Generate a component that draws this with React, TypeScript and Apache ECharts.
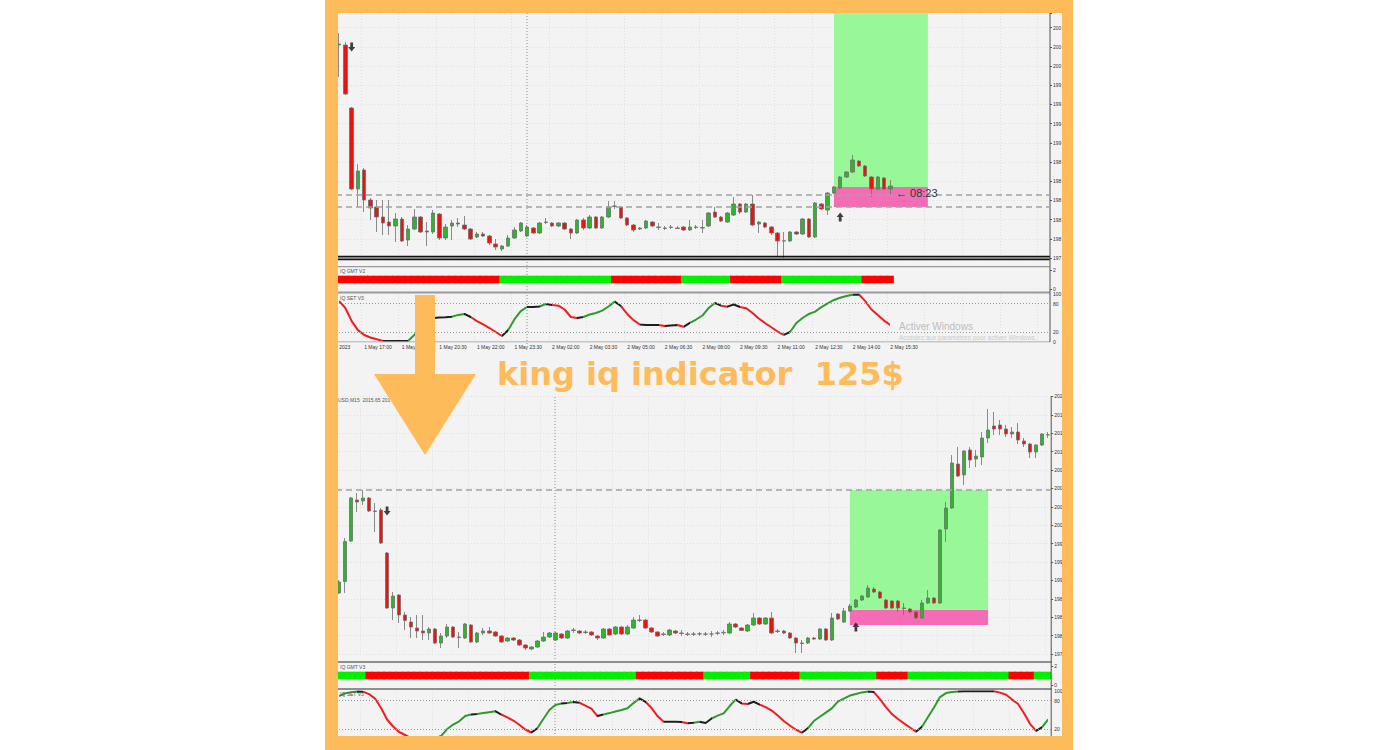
import React, { useEffect, useRef } from "react";
import * as echarts from "echarts";

// ---------------- DATA ----------------
// Prices are in "points" above each panel's lowest price tick.
const TOP_SLOTS = 114;
const BOTTOM_SLOTS = 119;

// [open, close, low, high]
const TOP_CANDLES: number[][] = [
  [106.5, 107, 90.5, 112.5], [106.5, 82, 81.5, 108], [75, 34.5, 34, 75.5], [34.5, 43.5, 25.5, 47],
  [44, 29, 23, 45], [29, 25, 19, 30], [25.5, 20.5, 13, 29], [20.5, 17.5, 11.5, 29],
  [18, 16, 11.5, 29], [16, 19.5, 8, 22.5], [19.5, 8.5, 8, 20.5], [9, 14.5, 6, 16.5],
  [14.5, 20.5, 14, 24.5], [20.5, 13, 12.5, 21], [13.5, 13, 6, 18], [13, 22.5, 12, 24],
  [22, 10, 9, 22.5], [10, 15.5, 9, 17], [16, 17.5, 9, 19], [17.5, 17, 15.5, 20],
  [16.5, 14.5, 14, 21], [14.5, 9.5, 9, 15], [10.5, 12, 10, 13], [12, 11, 10.5, 13],
  [11, 7.5, 6.5, 11.5], [7, 5.5, 4, 9.5], [4.5, 6, 3.5, 6.5], [6, 10, 5.5, 11.5],
  [10, 14, 9.5, 15.5], [13.5, 17.5, 13, 18], [11, 15.5, 10.5, 16.5], [15, 12.5, 12, 15.5],
  [12.5, 17.5, 12, 18], [18, 17.8, 17, 20], [17.5, 16, 15.5, 18], [16, 17.5, 15.5, 18],
  [17.5, 14.5, 14, 18], [14.5, 12.5, 9.5, 15], [12.5, 19, 12, 19.5], [19, 15, 14, 20],
  [15, 20.5, 14.5, 21.5], [20.5, 15, 14.5, 21], [15, 20.5, 14.5, 21], [20.5, 25.5, 20, 28.5],
  [26, 25.8, 24.5, 28.5], [25.5, 20, 19.5, 26], [20, 16.5, 16, 20.5], [16.5, 14, 13, 17],
  [14.5, 15, 14, 15.5], [15, 18.5, 14.5, 19], [18, 16, 15.5, 18.5], [15.5, 15.3, 14, 17.5],
  [15, 14.8, 14, 16], [15.5, 15.3, 14.5, 16.5], [15, 14.8, 14.5, 16], [15.5, 14, 13.5, 16],
  [14, 15.5, 13.5, 19], [15.5, 15.3, 14.5, 16.5], [15, 15.2, 12.5, 19], [16, 22.5, 15.5, 23],
  [23, 20.5, 20, 25.5], [20.5, 18.5, 18, 21], [18, 22.5, 17.5, 23], [21.5, 27, 21, 30.5],
  [27, 23, 22, 27.5], [23, 27, 22.5, 27.5], [27, 16.5, 16, 31.5], [17, 18, 12.5, 18.5],
  [17.5, 15.5, 15, 18], [15.5, 12.5, 11.5, 16], [12.5, 8.5, 0.5, 13], [8.5, 8.6, 0, 13],
  [8.5, 13, 8, 13.5], [13, 12, 11.5, 13.5], [12, 19.5, 11.5, 20], [19.5, 10.5, 10, 20],
  [10.5, 27.5, 10, 28], [27, 24.5, 24, 27.5], [24, 32.5, 21.5, 33], [32.5, 35.5, 32, 36],
  [35, 40.5, 34.5, 41], [40.5, 43, 40, 43.5], [43, 49, 42.5, 51.5], [48.5, 46, 45.5, 49],
  [46, 41, 40.5, 46.5], [40.5, 34.5, 30.5, 41], [34.5, 40.5, 34, 41], [40, 34.5, 34, 40.5],
  [34.5, 36, 31.5, 39],
];

const BOTTOM_CANDLES: number[][] = [
  [30.5, 36, 30, 37], [36.2, 56.2, 30.5, 58], [56.5, 78, 56, 78.5], [77, 76, 71, 80.5],
  [76.5, 78, 74.5, 82], [78, 71.5, 71, 78.5], [71.5, 71.3, 61, 75.5], [72, 55.5, 55, 73],
  [50.5, 23, 22.5, 51], [23, 29, 17, 31], [29.5, 19.5, 15.5, 30], [19.5, 16.8, 12, 21],
  [16, 13.5, 8, 18.5], [13, 11.5, 8, 19.5], [11.5, 10.5, 7, 19.5], [10.5, 12.5, 7, 13.5],
  [12.5, 5.5, 5, 13], [5.5, 9, 3, 10.5], [9, 13.5, 8, 15], [13.5, 8.5, 8, 14],
  [8.5, 8.3, 3, 11], [8, 15, 7.5, 15.5], [14.5, 6, 5.5, 15], [6, 10.5, 5.5, 11],
  [10.5, 11.5, 9.5, 13], [11.5, 10.5, 10, 13.5], [11, 9, 8.5, 11.5], [9, 6, 5.5, 9.5],
  [6.5, 8, 6, 8.5], [8, 7, 6.5, 8.5], [7, 4.5, 4, 7.5], [4.5, 3, 2, 5],
  [2.5, 3.5, 2, 4], [3.5, 6.5, 3, 7], [6.5, 8.5, 6, 11], [8.5, 10.5, 8, 11],
  [7, 10.5, 6.5, 11], [10, 8, 7.5, 10.5], [8, 11.5, 7.5, 12], [12, 11.8, 10.5, 13],
  [11.5, 10.5, 10, 12], [11, 10.8, 10, 12], [11, 9.5, 9, 11.5], [9, 8, 7, 9.5],
  [8, 12.5, 7.5, 13], [12.5, 9.5, 9, 13], [10, 13.5, 9.5, 14], [13.5, 10, 9.5, 14],
  [10, 13.5, 9.5, 14.5], [13, 17, 12.5, 18.5], [17, 16.8, 16, 19.5], [17, 13, 12.5, 17.5],
  [13, 11, 10.5, 13.5], [11, 9, 8.5, 11.5], [10, 9.8, 9, 11], [9.5, 12, 9, 12.5],
  [11.5, 10.5, 10, 12], [10.5, 10.3, 9, 12], [10, 9.8, 9, 11], [10, 9.9, 9, 11],
  [10, 10.1, 9, 11], [10, 9.9, 9, 11], [10, 10, 8.5, 11.5], [10.5, 10.4, 9.5, 11.5],
  [10.8, 10.6, 9.5, 12], [10.5, 15, 10, 16], [15, 13.5, 13, 15.5], [13, 11.8, 11.5, 13.5],
  [11.5, 14.5, 11, 15], [14.5, 18, 14, 20.5], [18, 15, 14.5, 18.5], [15, 18, 14.5, 18.5],
  [18, 10.5, 10, 21], [11.5, 11.3, 10.5, 12.5], [11.5, 10.5, 10, 12], [10.5, 8, 7.5, 11],
  [8, 5.5, 0.5, 8.5], [5.5, 5.3, 0.5, 7], [5.5, 8, 5, 8.5], [8, 7.5, 7, 8.5],
  [7.5, 12.5, 7, 13], [12.5, 7, 6.5, 13], [7, 18, 6.5, 20.5], [20, 17.5, 17, 20.5],
  [16, 21.5, 15.5, 23], [21.5, 24, 21, 25], [23.5, 27, 23, 27.5], [27, 29, 26.5, 29.5],
  [28.5, 33, 28, 34.5], [32.5, 31, 30.5, 33.5], [31, 28, 27.5, 31.5], [27, 23, 22.5, 27.5],
  [26.5, 23, 22.5, 27], [26.5, 23, 21, 27], [23, 22.8, 19.5, 25.5], [22.5, 21, 20.5, 23],
  [21, 18, 17.5, 21.5], [18, 25.5, 17.5, 27], [25.5, 28, 25, 32], [28, 25.5, 25, 28.5],
  [25.5, 62, 25, 62.5], [62.5, 73, 56, 76], [73, 95.5, 72.5, 99.5], [95, 89, 88.5, 103.5],
  [89.5, 101.5, 84.5, 102], [102, 97, 93, 103.5], [97.5, 99, 93.5, 102], [98.5, 108, 94.5, 111],
  [108, 112, 105.5, 122.5], [114, 112.5, 109.5, 121], [114.5, 112.5, 109.5, 117], [112.5, 110, 108.5, 114.5],
  [110, 111, 108, 113.5], [111, 107, 105, 115.5], [106.5, 105, 103.5, 108], [105, 101, 98, 105.5],
  [101, 104.5, 98, 105], [104.5, 110, 104, 110.5], [109.5, 109.6, 108, 111],
];

// IQ SET V3 oscillator (0..100)
const TOP_SET = [
  85, 70.5, 43, 24, 13.7, 8.4, 4.6, 1, 1, 1,
  1, 1, 13.7, 28, 41, 49.5, 50.5, 51, 52, 56,
  58, 51.6, 43, 35.8, 28.4, 20, 11.6, 24, 47, 64,
  72.6, 72.6, 73.7, 79, 76.8, 75.4, 67.4, 51.6, 49.5, 51.6,
  56.8, 60, 65, 73.7, 84, 74.7, 58, 45, 35.8, 34.7,
  34.7, 34.7, 32.6, 33.7, 34.7, 31, 39, 46.3, 54.7, 70.5,
  81, 75.4, 73.3, 78, 72.6, 70, 60, 48.4, 39, 30,
  21, 14, 20, 39, 49.5, 58, 63, 72.6, 80.4, 87.4,
  92, 95.8, 98.3, 99, 85, 67.4, 55.8, 44, 34.7,
];
const BOTTOM_SET = [
  89.7, 95.4, 98, 99.6, 99, 94, 84.5, 64.6, 40.5, 25.8,
  14.3, 8, 1, 0, 0, 0, 2, 6, 20.5, 30,
  36.7, 47.8, 51, 52, 54, 56, 58, 51, 45, 38.4,
  29.6, 19.5, 13.2, 22, 41.5, 60.4, 70.9, 74, 75, 77.1,
  75.7, 69.8, 63.5, 47.8, 51, 54, 57.2, 60.4, 64, 75,
  84.9, 77.8, 64.6, 47.8, 35.8, 35.8, 35.8, 35.2, 32.5, 33.5,
  35.8, 33.1, 42.6, 48.8, 53.5, 68.8, 82.4, 74.4, 73, 77.8,
  71.9, 66.7, 59.3, 48.8, 37.3, 27.9, 19.5, 12.8, 22, 37.3,
  46.3, 55.1, 63.9, 78.2, 84.5, 90.8, 94.3, 97.5, 99.6, 98.1,
  83.4, 66.7, 52, 41.5, 32.5, 23.7, 14.9, 25.4, 45.7, 65.6,
  87.6, 96, 98.1, 99.6, 100, 100, 100, 100, 100, 100,
  97, 92.5, 82.4, 73, 53, 31, 16.8, 24.7, 40.9,
];

// IQ GMT signal runs: [signal, candle count]
const TOP_GMT_RUNS: [string, number][] = [
  ["R", 26], ["G", 18], ["R", 11], ["G", 8], ["R", 8], ["G", 13], ["R", 5],
];
const BOTTOM_GMT_RUNS: [string, number][] = [
  ["G", 5], ["R", 27], ["G", 18], ["R", 11], ["G", 8], ["R", 8], ["G", 13], ["R", 5], ["G", 17], ["R", 4], ["G", 3],
];

const TOP_PRICE_STEP = 9.6;
const TOP_PRICE_MAX = 122.5;
const TOP_PRICE_LABELS = ["197", "198", "198", "198", "198", "198", "199", "199", "199", "199", "200", "200", "200"];
const BOTTOM_PRICE_STEP = 9.2;
const BOTTOM_PRICE_MAX = 128.8;
const BOTTOM_PRICE_LABELS = ["197", "198", "198", "198", "199", "199", "199", "200", "200", "200", "200", "201", "201", "201", "202"];

const TOP_TIME_LABELS: Record<number, string> = {
  0: "2023", 4: "1 May 17:00", 10: "1 May 18:30", 16: "1 May 20:30", 22: "1 May 22:00",
  28: "1 May 23:30", 34: "2 May 02:00", 40: "2 May 03:30", 46: "2 May 05:00", 52: "2 May 06:30",
  58: "2 May 08:00", 64: "2 May 09:30", 70: "2 May 11:00", 76: "2 May 12:30", 82: "2 May 14:00",
  88: "2 May 15:30",
};

const TOP_LEVELS = [31.5, 25.5];
const BOTTOM_LEVELS = [82];
const TOP_ZONE = { from: 79, to: 94, target: 122.5, entry: 35.5, stop: 25.5 };
const BOTTOM_ZONE = { from: 85, to: 108, target: 82, entry: 22, stop: 14.5 };
const TOP_SIGNALS = [{ index: 2, price: 105.5, dir: "down" }, { index: 80, price: 20.5, dir: "up" }];
const BOTTOM_SIGNALS = [{ index: 8, price: 71.5, dir: "down" }, { index: 86, price: 13.5, dir: "up" }];
const SET_LEVELS = [20, 80];
const SET_AXIS_LABELS = [0, 20, 80, 100];

// ---------------- STYLE ----------------
const ORANGE = "#fdbb5a";
const BULL = "#2eb52e";
const BEAR = "#e8140f";
const WICK = "#6e6e6e";
const SET_GREEN = "#2f9a2f";
const SET_RED = "#f21c1c";
const SET_BLACK = "#1e1e1e";
const GMT_GREEN = "#00f000";
const GMT_RED = "#ff0000";
const DOWN_ARROW = "path://M3,0 H7 V6 H10 L5,12 L0,6 H3 Z";
const UP_ARROW = "path://M5,0 L10,6 H7 V12 H3 V6 H0 Z";

function expandRuns(runs: [string, number][]) {
  const out: string[] = [];
  runs.forEach(([c, n]) => {
    for (let k = 0; k < n; k++) out.push(c);
  });
  return out;
}

function segmentPieces(values: number[]) {
  const cols: string[] = [];
  let prevD = 0;
  for (let i = 0; i < values.length - 1; i++) {
    const d = values[i + 1] - values[i];
    let c: string;
    if (Math.abs(d) < 1.2) c = SET_BLACK;
    else if (Math.abs(prevD) >= 1.2 && Math.sign(d) !== Math.sign(prevD)) c = SET_BLACK;
    else c = d > 0 ? SET_GREEN : SET_RED;
    cols.push(c);
    prevD = d;
  }
  const pieces: any[] = [];
  let start = 0;
  for (let i = 1; i <= cols.length; i++) {
    if (i === cols.length || cols[i] !== cols[start]) {
      pieces.push({ gte: start, lt: i, color: cols[start] });
      start = i;
    }
  }
  const last = pieces[pieces.length - 1];
  pieces[pieces.length - 1] = { gte: last.gte, lte: values.length - 1, color: last.color };
  return pieces;
}

function priceLabel(v: number, step: number, labels: string[]) {
  const k = v / step;
  const r = Math.round(k);
  if (Math.abs(k - r) > 0.01) return "";
  return labels[r] ?? "";
}

const topCats = Array.from({ length: TOP_SLOTS }, (_, i) => "T" + i);
const bottomCats = Array.from({ length: BOTTOM_SLOTS }, (_, i) => "B" + i);

function candleSeries(xi: number, data: number[][], cats: string[], zone: any, levels: number[], tagText: string) {
  const lastClose = data[data.length - 1][1];
  return {
    type: "candlestick",
    xAxisIndex: xi,
    yAxisIndex: xi,
    data,
    barWidth: 4,
    z: 3,
    itemStyle: { color: BULL, color0: BEAR, borderColor: WICK, borderColor0: WICK, borderWidth: 0.8 },
    markArea: {
      silent: true,
      data: [
        [
          { xAxis: cats[zone.from], yAxis: zone.target, itemStyle: { color: "#98f898", opacity: 1 } },
          { xAxis: cats[zone.to], yAxis: zone.entry },
        ],
        [
          { xAxis: cats[zone.from], yAxis: zone.entry, itemStyle: { color: "#f46cb6", opacity: 1 } },
          { xAxis: cats[zone.to], yAxis: zone.stop },
        ],
      ],
    },
    markLine: {
      silent: true,
      symbol: "none",
      animation: false,
      data: [
        ...levels.map((v) => ({
          yAxis: v,
          lineStyle: { color: "#a3a3a3", type: [6, 4], width: 1.5 },
          label: { show: false },
        })),
        {
          yAxis: lastClose,
          lineStyle: { width: 0, opacity: 0 },
          label: {
            show: true,
            position: "end",
            distance: 1,
            formatter: tagText,
            fontSize: 5,
            color: "#fff",
            backgroundColor: "#000",
            padding: [1, 1, 0, 1],
          },
        },
      ],
    },
  };
}

function signalSeries(xi: number, sigs: any[], cats: string[]) {
  return {
    type: "scatter",
    xAxisIndex: xi,
    yAxisIndex: xi,
    z: 6,
    symbolSize: [7, 9],
    itemStyle: { color: "#111" },
    data: sigs.map((s) => ({ value: [cats[s.index], s.price], symbol: s.dir === "down" ? DOWN_ARROW : UP_ARROW })),
  };
}

function gmtSeries(xi: number, runs: [string, number][]) {
  const sig = expandRuns(runs);
  const common = { type: "bar", xAxisIndex: xi, yAxisIndex: xi, stack: "gmt" + xi, barWidth: 7.2 };
  return [
    { ...common, data: sig.map(() => 0.6), itemStyle: { color: "rgba(0,0,0,0)" } },
    { ...common, data: sig.map((c) => (c === "G" ? 0.8 : 0)), itemStyle: { color: GMT_GREEN } },
    { ...common, data: sig.map((c) => (c === "R" ? 0.8 : 0)), itemStyle: { color: GMT_RED } },
  ];
}

function setSeries(xi: number, values: number[]) {
  return {
    type: "line",
    xAxisIndex: xi,
    yAxisIndex: xi,
    data: values,
    symbol: "none",
    z: 4,
    lineStyle: { width: 2 },
    markLine: {
      silent: true,
      symbol: "none",
      data: SET_LEVELS.map((v) => ({ yAxis: v })),
      lineStyle: { color: "#9a9a9a", type: [1, 2], width: 1 },
      label: { show: false },
    },
  };
}

const gridLine = { show: true, lineStyle: { color: "#e0e0e0", type: [1, 2], width: 1 } };
const axisText = { fontSize: 5, color: "#333", margin: 3, fontFamily: "Liberation Sans" };

function xAxisFor(gi: number, cats: string[], withLabels: boolean) {
  return {
    gridIndex: gi,
    type: "category",
    data: cats,
    boundaryGap: true,
    axisLine: { show: false },
    axisTick: { show: false },
    axisLabel: withLabels
      ? {
          show: true,
          interval: (i: number) => TOP_TIME_LABELS[i] !== undefined,
          formatter: (_v: string, i: number) => TOP_TIME_LABELS[i] ?? "",
          fontSize: 5,
          color: "#333",
          align: "left",
          margin: 3,
          fontFamily: "Liberation Sans",
        }
      : { show: false },
    splitLine: { ...gridLine, interval: (i: number) => i % 6 === 4 },
  };
}

function priceAxis(gi: number, max: number, step: number, labels: string[]) {
  return {
    gridIndex: gi,
    type: "value",
    position: "right",
    min: 0,
    max,
    interval: step,
    axisLine: { show: false },
    axisTick: { show: true, length: 2, lineStyle: { color: "#555" } },
    axisLabel: { ...axisText, formatter: (v: number) => priceLabel(v, step, labels) },
    splitLine: gridLine,
  };
}

function gmtAxis(gi: number) {
  return {
    gridIndex: gi,
    type: "value",
    position: "right",
    min: 0,
    max: 2,
    interval: 2,
    axisLine: { show: false },
    axisTick: { show: true, length: 2, lineStyle: { color: "#555" } },
    axisLabel: { ...axisText },
    splitLine: { show: false },
  };
}

function setAxis(gi: number) {
  return {
    gridIndex: gi,
    type: "value",
    position: "right",
    min: 0,
    max: 100,
    interval: 20,
    axisLine: { show: false },
    axisTick: { show: false },
    axisLabel: { ...axisText, formatter: (v: number) => (SET_AXIS_LABELS.includes(v) ? String(v) : "") },
    splitLine: { show: false },
  };
}

function rect(x: number, y: number, w: number, h: number, fill: string, z: number) {
  return { type: "rect", silent: true, z, shape: { x, y, width: w, height: h }, style: { fill } };
}
function hline(x1: number, x2: number, y: number, stroke: string, lw: number, z = 5, dash?: number[]) {
  return { type: "line", silent: true, z, shape: { x1, y1: y, x2, y2: y }, style: { stroke, lineWidth: lw, lineDash: dash } };
}
function vline(x: number, y1: number, y2: number, stroke: string, lw: number, z = 5, dash?: number[]) {
  return { type: "line", silent: true, z, shape: { x1: x, y1, x2: x, y2 }, style: { stroke, lineWidth: lw, lineDash: dash } };
}
function label(text: string, x: number, y: number, size: number, fill: string, z = 6, weight = "normal", family = "Liberation Sans") {
  return {
    type: "text",
    silent: true,
    z,
    x,
    y,
    style: { text, fill, fontSize: size, fontFamily: family, fontWeight: weight, textAlign: "left", textVerticalAlign: "middle" },
  };
}

export default function App() {
  const ref = useRef<HTMLDivElement>(null);
  useEffect(() => {
    if (!ref.current) return;
    const chart = echarts.init(ref.current, undefined, { renderer: "svg" });
    const option: any = {
      animation: false,
      backgroundColor: "#f3f3f3",
      grid: [
        { left: 336, top: 13, width: 714, height: 245, containLabel: false, outerBoundsMode: "none" },
        { left: 336, top: 270, width: 714, height: 19, containLabel: false, outerBoundsMode: "none" },
        { left: 336, top: 294, width: 714, height: 47.5, containLabel: false, outerBoundsMode: "none" },
        { left: 336, top: 396.4, width: 715.2, height: 257.6, containLabel: false, outerBoundsMode: "none" },
        { left: 336, top: 666, width: 715.2, height: 19, containLabel: false, outerBoundsMode: "none" },
        { left: 336, top: 691.2, width: 715.2, height: 47.6, containLabel: false, outerBoundsMode: "none" },
      ],
      xAxis: [
        xAxisFor(0, topCats, false),
        { ...xAxisFor(1, topCats, false), splitLine: { show: false } },
        xAxisFor(2, topCats, true),
        xAxisFor(3, bottomCats, false),
        { ...xAxisFor(4, bottomCats, false), splitLine: { show: false } },
        xAxisFor(5, bottomCats, false),
      ],
      yAxis: [
        priceAxis(0, TOP_PRICE_MAX, TOP_PRICE_STEP, TOP_PRICE_LABELS),
        gmtAxis(1),
        setAxis(2),
        priceAxis(3, BOTTOM_PRICE_MAX, BOTTOM_PRICE_STEP, BOTTOM_PRICE_LABELS),
        gmtAxis(4),
        setAxis(5),
      ],
      visualMap: [
        { type: "piecewise", show: false, seriesIndex: 5, dimension: 0, pieces: segmentPieces(TOP_SET) },
        { type: "piecewise", show: false, seriesIndex: 11, dimension: 0, pieces: segmentPieces(BOTTOM_SET) },
      ],
      series: [
        candleSeries(0, TOP_CANDLES, topCats, TOP_ZONE, TOP_LEVELS, "198"),
        signalSeries(0, TOP_SIGNALS, topCats),
        ...gmtSeries(1, TOP_GMT_RUNS),
        setSeries(2, TOP_SET),
        candleSeries(3, BOTTOM_CANDLES, bottomCats, BOTTOM_ZONE, BOTTOM_LEVELS, "201"),
        signalSeries(3, BOTTOM_SIGNALS, bottomCats),
        ...gmtSeries(4, BOTTOM_GMT_RUNS),
        setSeries(5, BOTTOM_SET),
      ],
      graphic: {
        elements: [
          // crosshair
          vline(527, 13, 345, "#8c8c8c", 1, 1, [1, 2]),
          vline(555, 397, 736, "#8c8c8c", 1, 1, [1, 2]),
          // panel separators / price scale
          hline(338, 1050, 256.6, "#111", 1.6),
          hline(338, 1050, 259.4, "#111", 1.6),
          hline(338, 1050, 266.6, "#9a9a9a", 1.4),
          hline(338, 1050, 292.6, "#9a9a9a", 2),
          hline(338, 1050, 341.8, "#b0b0b0", 1),
          hline(338, 1052, 662, "#8e8e8e", 2),
          hline(338, 1052, 689, "#8e8e8e", 2),
          vline(1050, 13, 342, "#555", 1),
          vline(1051.2, 396, 736, "#555", 1),
          // panel captions
          label("IQ GMT V2", 340, 270.5, 5, "#555"),
          label("IQ SET V3", 340, 297.5, 5, "#555"),
          label("USD,M15  2015.65 201", 338, 399.5, 5, "#555"),
          label("IQ GMT V3", 340, 666.5, 5, "#555"),
          label("IQ SET V3", 340, 693.5, 5, "#555"),
          label("← 08:23", 896, 192.5, 11, "#333"),
          label("Activer Windows", 899, 326, 10, "#bdbdbd"),
          label("Accédez aux paramètres pour activer Windows.", 899, 337.5, 6.5, "#cbcbcb"),
          // page outside frame
          rect(0, 0, 325, 750, "#ffffff", 100),
          rect(1073, 0, 327, 750, "#ffffff", 100),
          // orange frame
          rect(325, 0, 748, 13, ORANGE, 100),
          rect(325, 736, 748, 14, ORANGE, 100),
          rect(325, 0, 13, 750, ORANGE, 100),
          rect(1062, 0, 11, 750, ORANGE, 100),
          // big arrow
          rect(415, 295, 20, 82, ORANGE, 90),
          {
            type: "polygon",
            silent: true,
            z: 90,
            shape: { points: [[374, 374], [476, 374], [425, 455]] },
            style: { fill: ORANGE },
          },
          label("king iq indicator  125$", 497, 374, 32, ORANGE, 90, "bold", "DejaVu Sans"),
        ],
      },
    };
    chart.setOption(option);
    return () => chart.dispose();
  }, []);
  return <div ref={ref} style={{ position: "absolute", left: 0, top: 0, width: 1400, height: 750 }} />;
}
